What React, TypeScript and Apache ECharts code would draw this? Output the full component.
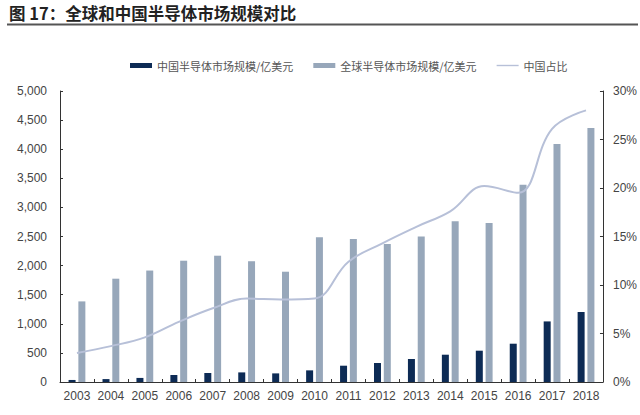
import React, { useEffect, useRef } from "react";
import * as echarts from "echarts";

const years = ["2003","2004","2005","2006","2007","2008","2009","2010","2011","2012","2013","2014","2015","2016","2017","2018"];
const chinaMarket = [35, 50, 70, 120, 155, 165, 148, 200, 280, 326, 395, 469, 538, 658, 1041, 1203];
const globalMarket = [1385, 1775, 1915, 2084, 2170, 2075, 1895, 2485, 2457, 2371, 2502, 2760, 2732, 3390, 4089, 4364];
const chinaShare = [3.0, 3.7, 4.6, 6.2, 7.6, 8.6, 8.5, 8.6, 12.4, 14.3, 16.0, 17.6, 20.2, 19.5, 26.1, 28.0];
const leftTicks = { min: 0, max: 5000, interval: 500 };
const rightTicks = { min: 0, max: 30, interval: 5 };

const titleText = "图 17：全球和中国半导体市场规模对比";
const seriesNames = ["中国半导体市场规模/亿美元", "全球半导体市场规模/亿美元", "中国占比"];

export default function App() {
  const ref = useRef<HTMLDivElement>(null);
  useEffect(() => {
    if (!ref.current) return;
    const chart = echarts.init(ref.current, null, { renderer: "svg" });
    const font = "'Liberation Sans', Arial, sans-serif";
    const cjk = "'Noto Sans CJK SC', sans-serif";
    chart.setOption({
      animation: false,
      backgroundColor: "#ffffff",
      title: {
        text: titleText,
        left: 4,
        top: 0,
        textStyle: { fontSize: 16.5, fontWeight: "bold", color: "#222", fontFamily: cjk },
      },
      graphic: [
        {
          type: "line",
          shape: { x1: 7, y1: 24.5, x2: 638, y2: 24.5 },
          style: { stroke: "#555", lineWidth: 2 },
        },
      ],
      legend: {
        top: 55,
        left: 125,
        itemWidth: 22,
        itemHeight: 5,
        itemGap: 20,
        textStyle: { fontSize: 11, color: "#555", fontFamily: cjk },
        data: [
          { name: seriesNames[0], icon: "rect" },
          { name: seriesNames[1], icon: "rect" },
          { name: seriesNames[2], icon: "path://M0,0L22,0L22,1.4L0,1.4Z" },
        ],
      },
      grid: { left: 60, right: 31, top: 91, bottom: 33, containLabel: false },
      xAxis: {
        type: "category",
        data: years,
        axisLine: { lineStyle: { color: "#333", width: 1 } },
        axisTick: { show: true, inside: true, length: 3, alignWithLabel: false, lineStyle: { color: "#333" } },
        axisLabel: { interval: 0, fontSize: 12, color: "#444", fontFamily: font, margin: 8 },
      },
      yAxis: [
        {
          type: "value",
          ...leftTicks,
          axisLine: { show: true, lineStyle: { color: "#333" } },
          axisTick: { show: true, inside: true, length: 3, lineStyle: { color: "#333" } },
          splitLine: { show: false },
          axisLabel: {
            fontSize: 12,
            color: "#444",
            fontFamily: font,
            margin: 13,
            formatter: (v: number) => v.toLocaleString("en-US"),
          },
        },
        {
          type: "value",
          ...rightTicks,
          position: "right",
          axisLine: { show: true, lineStyle: { color: "#333" } },
          axisTick: { show: true, inside: true, length: 3, lineStyle: { color: "#333" } },
          splitLine: { show: false },
          axisLabel: { fontSize: 12, color: "#444", fontFamily: font, margin: 10, formatter: "{value}%" },
        },
      ],
      series: [
        {
          name: seriesNames[0],
          type: "bar",
          data: chinaMarket,
          barWidth: 7,
          barGap: "40%",
          itemStyle: { color: "#0d2b55" },
        },
        {
          name: seriesNames[1],
          type: "bar",
          data: globalMarket,
          barWidth: 7,
          itemStyle: { color: "#97a7ba" },
        },
        {
          name: seriesNames[2],
          type: "line",
          yAxisIndex: 1,
          data: chinaShare,
          smooth: 0.4,
          symbol: "none",
          lineStyle: { color: "#b7c0d8", width: 2 },
          itemStyle: { color: "#b7c0d8" },
        },
      ],
    });
    return () => chart.dispose();
  }, []);
  return <div ref={ref} style={{ position: "fixed", left: 0, top: 0, width: 640, height: 415 }} />;
}
